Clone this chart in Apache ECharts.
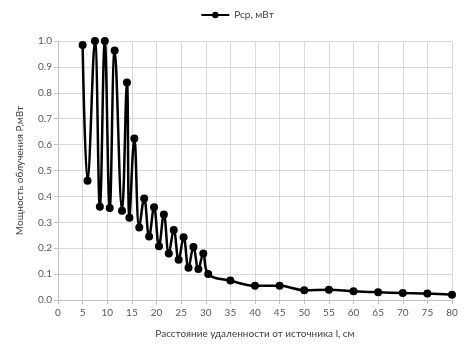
<!DOCTYPE html>
<html>
<head>
<meta charset="utf-8">
<script src="https://cdn.jsdelivr.net/npm/echarts@6/dist/echarts.min.js"></script>
<style>
  html, body { margin: 0; padding: 0; background: #fff; }
  #chart { width: 474px; height: 353px; }
</style>
</head>
<body>
<div id="chart"></div>
<script>
// distance l, cm
const distance = [5, 6, 7.5, 8.5, 9.5, 10.5, 11.5, 13, 14, 14.5, 15.5, 16.5, 17.5, 18.5, 19.5, 20.5, 21.5, 22.5, 23.5, 24.5, 25.5, 26.5, 27.5, 28.5, 29.5, 30.5, 35, 40, 45, 50, 55, 60, 65, 70, 75, 80];
// Pcp, mW
const power = [0.985, 0.46, 1.0, 0.36, 1.0, 0.355, 0.963, 0.345, 0.84, 0.318, 0.624, 0.28, 0.392, 0.245, 0.358, 0.208, 0.33, 0.18, 0.27, 0.155, 0.242, 0.125, 0.205, 0.12, 0.18, 0.1, 0.075, 0.055, 0.055, 0.038, 0.04, 0.034, 0.03, 0.027, 0.025, 0.02];

const chart = echarts.init(document.getElementById('chart'));
const font = 'Lato, "Open Sans", sans-serif';

chart.setOption({
  animation: false,
  textStyle: { fontFamily: font },
  legend: {
    top: 5,
    left: 'center',
    itemWidth: 28,
    itemHeight: 8,
    textStyle: { fontSize: 10, color: '#404040', fontFamily: font },
    data: ['Рср, мВт']
  },
  grid: { left: 58, right: 22, top: 41, bottom: 53 },
  xAxis: {
    type: 'value',
    min: 0,
    max: 80,
    interval: 5,
    name: 'Расстояние удаленности от источника l, см',
    nameLocation: 'middle',
    nameGap: 29,
    nameTextStyle: { fontSize: 10, color: '#404040', fontFamily: font },
    axisLine: { lineStyle: { color: '#bfbfbf' } },
    axisTick: { show: true, length: 4, lineStyle: { color: '#bfbfbf' } },
    axisLabel: { fontSize: 10, color: '#595959', margin: 8 },
    splitLine: { show: true, lineStyle: { color: '#d9d9d9' } }
  },
  yAxis: {
    type: 'value',
    min: 0,
    max: 1,
    interval: 0.1,
    name: 'Мощность облучения P,мВт',
    nameLocation: 'middle',
    nameGap: 33,
    nameTextStyle: { fontSize: 10, color: '#404040', fontFamily: font },
    axisLine: { show: true, lineStyle: { color: '#bfbfbf' } },
    axisTick: { show: true, length: 4, lineStyle: { color: '#bfbfbf' } },
    axisLabel: { fontSize: 10, color: '#595959', margin: 6, formatter: v => v.toFixed(1) },
    splitLine: { show: true, lineStyle: { color: '#d9d9d9' } }
  },
  series: [{
    name: 'Рср, мВт',
    type: 'line',
    smooth: 0.4,
    data: distance.map((x, i) => [x, power[i]]),
    symbol: 'circle',
    symbolSize: 8,
    lineStyle: { color: '#000', width: 2.5 },
    itemStyle: { color: '#000' }
  }]
});
</script>
</body>
</html>
